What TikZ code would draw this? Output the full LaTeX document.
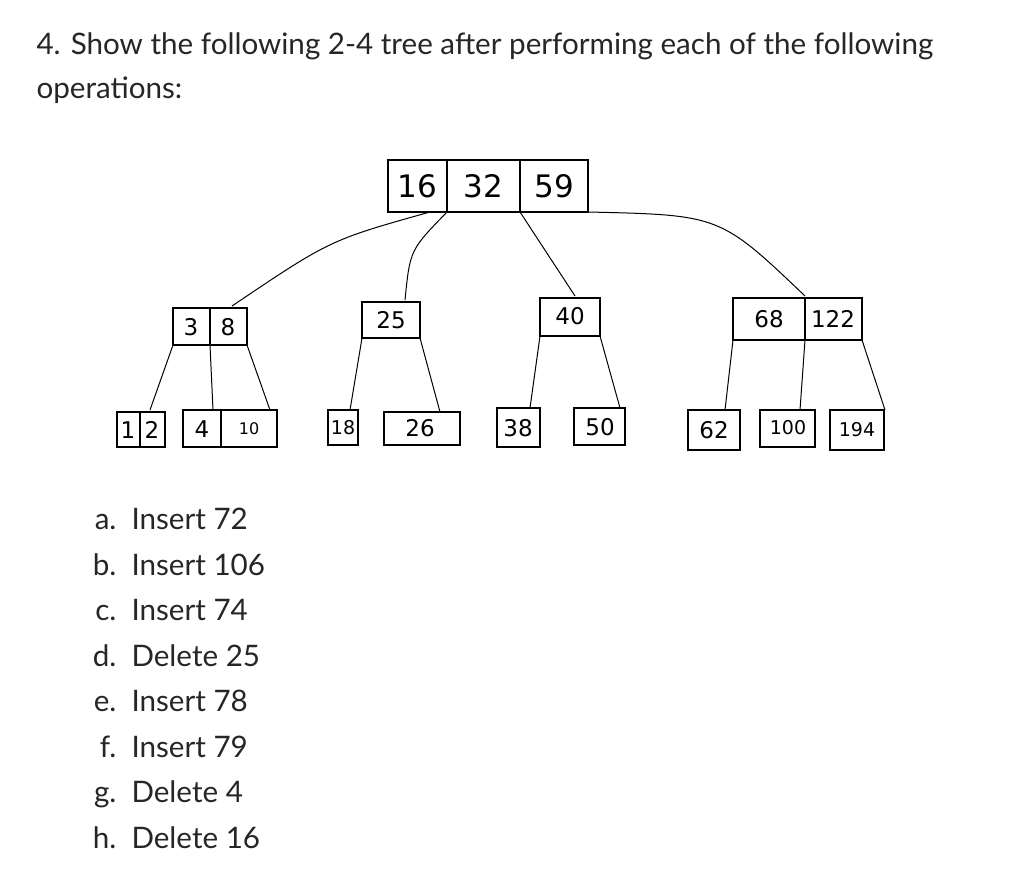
\documentclass[tikz,border=0pt]{standalone}
\usepackage{fontspec}
\setmainfont{Lato}
\newfontfamily\hand{DejaVu Sans}
\begin{document}
\begin{tikzpicture}[x=1pt,y=-1pt,
  bx/.style={draw,line width=1.3pt},
  ed/.style={line width=1pt},
  hw/.style={font=\hand\fontsize{23}{23}\selectfont},
  txt/.style={anchor=base west,font=\fontsize{29.6}{32}\selectfont,text=black!85}]
\useasboundingbox (0,0) rectangle (1024,881);
\node[txt] at (33,54) {4. Show the following 2-4 tree after performing each of the following};
\node[txt] at (33,98) {operations:};
% root
\draw[bx] (388,160) rectangle (588,212); \draw[bx] (447,160)--(447,212); \draw[bx] (520,160)--(520,212);
\node[hw,font=\hand\fontsize{31}{31}\selectfont] at (417,186) {16};
\node[hw,font=\hand\fontsize{31}{31}\selectfont] at (483,186) {32};
\node[hw,font=\hand\fontsize{31}{31}\selectfont] at (554,186) {59};
% level 2
\draw[bx] (173,308) rectangle (247,345); \draw[bx] (210,308)--(210,345);
\node[hw] at (191,327) {3}; \node[hw] at (228,327) {8};
\draw[bx] (362,302) rectangle (420,338); \node[hw] at (391,320) {25};
\draw[bx] (540,298) rectangle (600,336); \node[hw] at (570,316) {40};
\draw[bx] (733,298) rectangle (862,340); \draw[bx] (805,298)--(805,340);
\node[hw] at (769,319) {68}; \node[hw] at (833,319) {122};
% root edges
\draw[ed] (430,212) .. controls (330,240) .. (232,306);
\draw[ed] (447,212) .. controls (410,250) .. (405,300);
\draw[ed] (520,212) -- (575,296);
\draw[ed] (588,212) .. controls (720,215) .. (805,296);
% leaves
\draw[bx] (117,412) rectangle (165,447); \draw[bx] (140,412)--(140,447);
\node[hw] at (128,430) {1}; \node[hw] at (152,430) {2};
\draw[bx] (183,410) rectangle (277,447); \draw[bx] (221,410)--(221,447);
\node[hw] at (202,429) {4}; \node[hw,font=\hand\fontsize{16}{16}\selectfont] at (249,429) {10};
\draw[bx] (328,410) rectangle (358,445); \node[hw,font=\hand\fontsize{19}{19}\selectfont] at (343,428) {18};
\draw[bx] (384,412) rectangle (460,445); \node[hw] at (420,428) {26};
\draw[bx] (497,408) rectangle (540,447); \node[hw] at (518,428) {38};
\draw[bx] (574,408) rectangle (625,445); \node[hw] at (600,427) {50};
\draw[bx] (688,410) rectangle (740,450); \node[hw] at (714,430) {62};
\draw[bx] (760,410) rectangle (815,447); \node[hw,font=\hand\fontsize{19}{19}\selectfont] at (788,428) {100};
\draw[bx] (830,410) rectangle (884,450); \node[hw,font=\hand\fontsize{19}{19}\selectfont] at (857,430) {194};
% lower edges
\draw[ed] (173,345)--(150,410); \draw[ed] (210,345)--(213,410); \draw[ed] (247,345)--(270,410);
\draw[ed] (362,338)--(350,410); \draw[ed] (420,338)--(440,412);
\draw[ed] (540,336)--(530,408); \draw[ed] (600,336)--(620,408);
\draw[ed] (733,340)--(725,410); \draw[ed] (805,340)--(800,410); \draw[ed] (862,340)--(885,410);
% list
\foreach \l/\t [count=\i] in {a./Insert 72,b./Insert 106,c./Insert 74,d./Delete 25,e./Insert 78,f./Insert 79,g./Delete 4,h./Delete 16}{
  \node[txt,anchor=base east] at (120,{484+45.5*\i}) {\l};
  \node[txt] at (128,{484+45.5*\i}) {\t};
}
\end{tikzpicture}
\end{document}
